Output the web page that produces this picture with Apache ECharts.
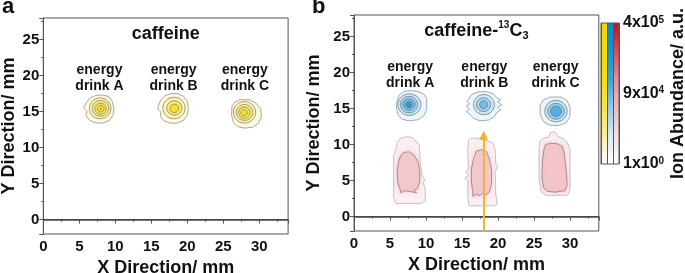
<!DOCTYPE html>
<html>
<head>
<meta charset="utf-8">
<script src="https://cdn.jsdelivr.net/npm/echarts@6/dist/echarts.min.js"></script>
<style>
  html, body { margin: 0; padding: 0; background: #fff; }
  #chart { width: 685px; height: 273px; }
</style>
</head>
<body>
<div id="chart"></div>
<script>
const FONT = 'Liberation Sans, Arial, sans-serif'

// ── axes (mm) ─────────────────────────────────────────
const xRange = [0, 34]
const yRange = [-2, 28]

// ── annotations ──────────────────────────────────────
const drinkLabels = ['energy\ndrink A', 'energy\ndrink B', 'energy\ndrink C']
const drinkLabelX = [7.8, 18.1, 28.0]
const drinkLabelY = 19.6
const titlePos = [17, 25.8]
const titleA = 'caffeine'
const titleB = 'caffeine-{s|13}C{u|3}'

// ── caffeine (yellow), panel a ───────────────────────
// outer contour of each spot
const yellowOuter = [
  [[5.6,15.5],[6.0,16.3],[6.5,16.9],[7.3,17.25],[8.2,17.3],[9.1,17.1],[9.6,16.4],[9.8,15.4],[9.7,14.5],[9.2,13.8],[8.3,13.4],[7.2,13.45],[6.4,13.8],[5.9,14.5],[6.1,15.0]],
  [[15.95,15.7],[16.3,16.6],[16.9,17.2],[17.7,17.5],[18.7,17.5],[19.5,17.1],[20.0,16.4],[20.15,15.4],[20.0,14.5],[19.5,13.8],[18.6,13.4],[17.6,13.4],[16.8,13.7],[16.3,14.3],[16.3,15.0],[15.9,15.3]],
  [[26.2,15.7],[26.6,16.3],[27.3,16.65],[28.6,16.65],[29.5,16.2],[30.2,15.4],[30.3,14.3],[29.9,13.4],[29.1,12.85],[28.0,12.7],[27.0,12.9],[26.4,13.5],[26.15,14.5]]
]
const yellowOuterLevel = [0.06, 0.06, 0.06]
// inner contour rings: [level, cx, cy, rx, ry]
const yellowRings = [
  [0.16, 7.9, 15.45, 1.5, 1.45], [0.26, 7.95, 15.45, 1.15, 1.1], [0.36, 7.95, 15.4, 0.8, 0.78], [0.48, 7.97, 15.4, 0.48, 0.46], [0.6, 7.97, 15.38, 0.09, 0.09],
  [0.16, 18.15, 15.5, 1.55, 1.5], [0.3, 18.2, 15.5, 1.05, 1.0], [0.5, 18.2, 15.45, 0.6, 0.58],
  [0.16, 27.95, 14.9, 1.55, 1.5], [0.26, 27.95, 14.88, 1.15, 1.1], [0.36, 27.92, 14.86, 0.8, 0.78], [0.5, 27.9, 14.85, 0.45, 0.42]
]

// ── caffeine-13C3 (blue), panel b ────────────────────
const blueOuter = [
  [[5.95,16.0],[6.3,16.9],[7.0,17.4],[8.0,17.5],[9.0,17.35],[9.7,17.0],[10.1,16.4],[10.1,14.9],[9.7,14.0],[8.9,13.45],[7.6,13.3],[6.6,13.55],[6.1,14.2],[5.9,15.1]],
  [[15.9,16.3],[16.4,17.0],[17.3,17.35],[18.5,17.35],[19.4,17.0],[19.85,16.5],[20.4,16.25],[19.95,15.95],[20.5,15.55],[19.95,15.2],[20.4,14.8],[19.8,14.4],[19.5,13.9],[18.7,13.4],[17.5,13.3],[16.6,13.65],[16.1,14.2],[15.6,14.6],[16.05,14.95],[15.6,15.35],[16.05,15.7],[15.65,16.0]],
  [[25.85,15.4],[26.3,16.2],[27.2,16.6],[28.7,16.6],[29.6,16.1],[30.0,15.2],[30.0,13.9],[29.4,13.0],[28.4,12.65],[27.2,12.7],[26.3,13.2],[25.85,14.2]]
]
const blueOuterLevel = [0.09, 0.09, 0.09]
const blueRings = [
  [0.22, 7.7, 15.55, 1.6, 1.5], [0.34, 7.65, 15.55, 1.2, 1.15], [0.46, 7.64, 15.55, 0.85, 0.8], [0.58, 7.62, 15.55, 0.5, 0.48], [0.68, 7.6, 15.5, 0.25, 0.25],
  [0.22, 18.05, 15.55, 1.45, 1.4], [0.34, 18.0, 15.55, 0.98, 0.95], [0.46, 18.0, 15.55, 0.55, 0.55],
  [0.24, 28.05, 14.65, 1.55, 1.5], [0.38, 28.06, 14.63, 1.15, 1.1], [0.54, 28.06, 14.63, 0.75, 0.72]
]

// ── lower (pink) spots, panel b: outer + inner contour ─
const pinkContours = [
  [[6.0,10.3],[6.5,10.9],[7.3,11.1],[8.1,11.0],[8.6,10.5],[9.1,9.9],[9.2,7.2],[9.5,5.6],[9.9,5.1],[9.6,4.8],[9.9,3.8],[9.9,2.2],[9.3,1.8],[5.9,1.8],[5.5,2.6],[5.5,8.5],[5.9,9.6]],
  [[6.9,8.9],[7.6,9.0],[8.3,8.6],[8.9,7.6],[9.15,6.2],[9.1,4.8],[8.8,3.9],[8.3,3.7],[8.7,3.3],[7.8,3.5],[7.0,3.6],[6.5,3.3],[6.4,3.8],[6.1,4.6],[6.0,6.3],[6.2,7.7],[6.5,8.5]],
  [[15.9,10.6],[16.3,10.9],[17.2,10.9],[17.9,10.7],[18.6,10.5],[19.3,10.2],[19.6,9.3],[19.7,7.3],[20.0,6.8],[19.6,6.3],[19.7,3.0],[19.9,1.7],[19.5,1.5],[16.0,1.5],[15.8,2.5],[15.8,5.0],[15.4,5.4],[15.9,5.7],[15.5,6.3],[15.9,6.6],[15.8,9.0]],
  [[17.0,9.1],[17.7,9.3],[18.4,9.0],[18.8,8.0],[19.1,6.5],[19.1,4.5],[18.8,3.4],[18.3,3.0],[17.9,3.3],[17.5,2.9],[17.0,3.1],[16.5,2.8],[16.5,3.5],[16.3,4.8],[16.3,6.6],[16.6,8.0]],
  [[25.8,10.4],[26.3,10.9],[27.0,11.0],[27.3,11.7],[27.9,11.8],[28.3,11.1],[29.0,10.9],[29.6,10.3],[30.0,9.3],[30.0,3.8],[29.7,3.0],[26.8,2.9],[26.0,3.4],[25.7,5.0],[25.7,9.4]],
  [[26.6,10.0],[27.4,10.2],[28.3,10.1],[28.9,9.8],[29.2,8.8],[29.5,6.0],[29.6,4.4],[29.3,3.6],[28.0,3.4],[26.9,3.5],[26.3,4.0],[26.1,5.5],[26.2,8.0],[26.4,9.4]]
]
const pinkLevel = [0.1, 0.32, 0.1, 0.32, 0.1, 0.34]

// ── arrow (panel b) ──────────────────────────────────
const arrowX = 18
const arrowTop = 11.3

// ── colour bar ───────────────────────────────────────
const colorbarTicks = ['1x10{s|0}', '9x10{s|4}', '4x10{s|5}']
const yellowScale = ['#ffffff', '#faf0a0', '#f7e44a', '#f5de10', '#f3dc00', '#f2d900']
const blueScale   = ['#ffffff', '#d6ebf7', '#8ecbec', '#3aa4dc', '#1591d4', '#0b89d0']
const redScale    = ['#ffffff', '#f7dfe2', '#f1b9bf', '#ea8e98', '#dc4a55', '#c8101c']
const colorbarScales = [yellowScale, blueScale, redScale]

// ── helpers ──────────────────────────────────────────
const boldText = (size) => ({ fontFamily: FONT, fontSize: size, fontWeight: 'bold', color: '#111' })
const supRich = {
  s: { fontFamily: FONT, fontSize: 10, fontWeight: 'bold', color: '#111', verticalAlign: 'top', lineHeight: 12 },
  u: { fontFamily: FONT, fontSize: 11, fontWeight: 'bold', color: '#111', verticalAlign: 'bottom', lineHeight: 12 },
}

function xAxisFor(gridIndex) {
  return {
    type: 'value', gridIndex, min: xRange[0], max: xRange[1],
    name: 'X Direction/ mm', nameLocation: 'middle', nameGap: 19, nameTextStyle: boldText(18),
    axisLine: { show: true, lineStyle: { color: '#555', width: 1 } },
    axisTick: { show: true, inside: false, length: 4, lineStyle: { color: '#555' } },
    minorTick: { show: true, splitNumber: 2, length: 2, lineStyle: { color: '#555' } },
    axisLabel: { ...boldText(15), margin: 5, formatter: v => (v % 5 === 0 ? String(v) : '') },
    splitLine: { show: false },
  }
}
function yAxisFor(gridIndex, gap) {
  return {
    type: 'value', gridIndex, min: yRange[0], max: yRange[1],
    name: 'Y Direction/ mm', nameLocation: 'middle', nameGap: gap, nameTextStyle: boldText(18),
    axisLine: { show: true, lineStyle: { color: '#555', width: 1 } },
    axisTick: { show: true, inside: false, length: 4, lineStyle: { color: '#555' } },
    minorTick: { show: true, splitNumber: 2, length: 2, lineStyle: { color: '#555' } },
    axisLabel: { ...boldText(15), margin: 4, formatter: v => (v % 5 === 0 ? String(v) : '') },
    splitLine: { show: false },
  }
}

function polygonSeries(gridIndex, polys, levels, strokeFn, glow) {
  return {
    type: 'custom', xAxisIndex: gridIndex, yAxisIndex: gridIndex, silent: true,
    data: polys.map((p, i) => [levels[i], i]),
    renderItem: (params, api) => {
      const fill = api.visual('color')
      const inner = glow && api.value(0) > 0.2
      return {
        type: 'polygon',
        shape: { points: polys[api.value(1)].map(pt => api.coord(pt)) },
        style: {
          fill, stroke: strokeFn(api.value(0)), lineWidth: 0.7,
          shadowBlur: inner ? 5 : 0, shadowColor: inner ? fill : 'transparent',
        },
      }
    },
  }
}
function ringSeries(gridIndex, rings, stroke) {
  return {
    type: 'custom', xAxisIndex: gridIndex, yAxisIndex: gridIndex, silent: true,
    data: rings,
    renderItem: (params, api) => {
      const c = api.coord([api.value(1), api.value(2)])
      const s = api.size([api.value(3), api.value(4)])
      return {
        type: 'ellipse',
        shape: { cx: c[0], cy: c[1], rx: s[0], ry: s[1] },
        style: { fill: api.visual('color'), stroke, lineWidth: 0.7 },
      }
    },
  }
}
function labelSeries(gridIndex, title, extraMarks) {
  return {
    type: 'scatter', xAxisIndex: gridIndex, yAxisIndex: gridIndex, silent: true, z: 5,
    symbolSize: 1, itemStyle: { color: 'rgba(0,0,0,0)', opacity: 1 },
    label: { show: true, position: 'inside', formatter: '{b}', ...boldText(14), opacity: 1, lineHeight: 16, rich: supRich },
    data: drinkLabels.map((t, i) => ({ name: t, value: [drinkLabelX[i], drinkLabelY] }))
      .concat([{ name: title, value: titlePos, label: { fontSize: 18, lineHeight: 22 } }]),
    markLine: {
      silent: true, symbol: ['none', 'none'], label: { show: false },
      data: [
        { yAxis: 0, lineStyle: { color: '#444', width: 1.5, type: 'solid' } },
        ...extraMarks,
      ],
    },
  }
}

const arrowMark = [[
  { coord: [arrowX, yRange[0]], symbol: 'none', lineStyle: { color: '#f7b42c', width: 2, type: 'solid' } },
  { coord: [arrowX, arrowTop], symbol: 'triangle', symbolSize: [9, 9] },
]]

const colorbarSeries = {
  type: 'custom', xAxisIndex: 2, yAxisIndex: 3, silent: true,
  data: colorbarScales.map((s, i) => [i, 0]),
  renderItem: (params, api) => {
    const i = api.value(0)
    const p0 = api.coord([i, 1])
    const p1 = api.coord([i + 1, 0])
    const stops = colorbarScales[i].slice().reverse()
    return {
      type: 'rect',
      shape: { x: p0[0], y: p0[1], width: p1[0] - p0[0], height: p1[1] - p0[1] },
      style: {
        fill: { type: 'linear', x: 0, y: 0, x2: 0, y2: 1,
          colorStops: stops.map((c, k) => ({ offset: k / (stops.length - 1), color: c })) },
      },
    }
  },
}

const chart = echarts.init(document.getElementById('chart'), null, { renderer: 'canvas' })

const gridBase = { show: true, borderColor: '#555', borderWidth: 1, backgroundColor: 'transparent', containLabel: false, outerBoundsMode: 'none' }

const option = {
  animation: false,
  backgroundColor: '#fff',
  title: [
    { text: 'a', left: 2, top: -4, padding: 0, textStyle: boldText(22) },
    { text: 'b', left: 312, top: -4, padding: 0, textStyle: boldText(22) },
  ],
  grid: [
    { ...gridBase, left: 43.3, top: 18, width: 244.8, height: 216 },
    { ...gridBase, left: 354, top: 15, width: 244.8, height: 216 },
    { ...gridBase, left: 601, top: 23, width: 18, height: 141, z: 10 },
  ],
  xAxis: [
    xAxisFor(0), xAxisFor(1),
    { type: 'value', gridIndex: 2, min: 0, max: 3, interval: 1, z: 10,
      axisLine: { show: false }, axisTick: { show: false }, axisLabel: { show: false },
      splitLine: { show: true, lineStyle: { color: '#555', width: 1 } } },
  ],
  yAxis: [
    yAxisFor(0, 25), yAxisFor(1, 31),
    { type: 'category', gridIndex: 2, data: colorbarTicks, boundaryGap: false, position: 'right',
      axisLine: { show: false }, axisTick: { show: false }, splitLine: { show: false },
      axisLabel: { ...boldText(16), margin: 4, rich: supRich },
      name: 'Ion Abundance/ a.u.', nameLocation: 'middle', nameRotate: 90, nameGap: 50, nameTextStyle: boldText(18) },
    { type: 'value', gridIndex: 2, min: 0, max: 1, show: false },
  ],
  visualMap: colorbarScales.map((colors, i) => ({
    type: 'continuous', show: false, min: 0, max: 1, dimension: 0,
    seriesIndex: [[0, 1], [2, 3], [4]][i], inRange: { color: colors },
  })),
  series: [
    polygonSeries(0, yellowOuter, yellowOuterLevel, () => '#8a836a', false),
    ringSeries(0, yellowRings, '#7d7660'),
    polygonSeries(1, blueOuter, blueOuterLevel, () => '#7a8794', false),
    ringSeries(1, blueRings, '#5f6e7c'),
    polygonSeries(1, pinkContours, pinkLevel, lv => (lv > 0.2 ? '#85707a' : '#ababab'), true),
    labelSeries(0, titleA, []),
    labelSeries(1, titleB, arrowMark),
    colorbarSeries,
  ],
}
chart.setOption(option)
</script>
</body>
</html>
